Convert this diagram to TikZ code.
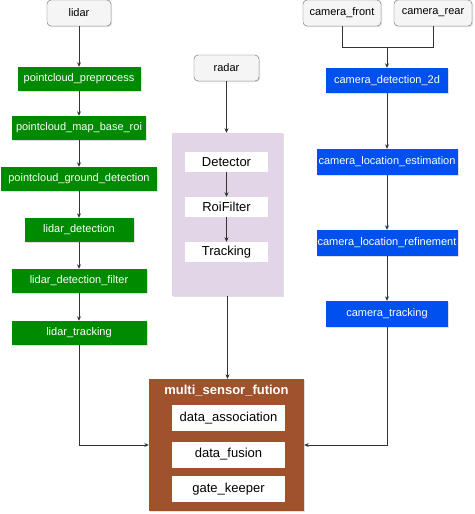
\documentclass[tikz,border=0pt]{standalone}
\usepackage{fontspec}
\setmainfont{Liberation Sans}
\usetikzlibrary{arrows.meta,shadows}
\definecolor{lidargreen}{HTML}{008A00}
\definecolor{camblue}{HTML}{0050EF}
\definecolor{fusebrown}{HTML}{A0522D}
\definecolor{radarpanel}{HTML}{E1D5E7}
\definecolor{srcgray}{HTML}{F5F5F5}
\definecolor{srcedge}{HTML}{666666}
\begin{document}
\begin{tikzpicture}[x=1pt,y=-1pt,
    shade/.style={drop shadow={opacity=0.25,shadow xshift=1.2pt,shadow yshift=-1.2pt}},
    srcbox/.style={shade,draw=srcedge,fill=srcgray,rounded corners=4pt,minimum height=26pt,
      inner sep=0pt,font=\fontsize{11}{13}\selectfont},
    lidarbox/.style={shade,fill=lidargreen,text=white,minimum height=24pt,inner sep=0pt,
      font=\fontsize{11}{13}\selectfont},
    cambox/.style={shade,fill=camblue,text=white,minimum height=25pt,inner sep=0pt,
      font=\fontsize{11}{13}\selectfont},
    subbox/.style={fill=white,inner sep=0pt,font=\fontsize{13}{15}\selectfont},
    link/.style={draw=black!80,line width=0.7pt,-{Stealth[length=4.5pt,width=4pt]}},
    wire/.style={draw=black!80,line width=0.7pt}]
  \useasboundingbox (0,0) rectangle (474,514);
  %
  % lidar column
  \node[srcbox,minimum width=64pt] (lidar) at (79,13) {lidar};
  \node[lidarbox,minimum width=123pt] (lpre) at (79,79) {pointcloud\_preprocess};
  \node[lidarbox,minimum width=134pt] (lroi) at (79,128) {pointcloud\_map\_base\_roi};
  \node[lidarbox,minimum width=156pt] (lground) at (79,179) {pointcloud\_ground\_detection};
  \node[lidarbox,minimum width=109pt] (ldet) at (79,230) {lidar\_detection};
  \node[lidarbox,minimum width=135pt] (lfilter) at (79,281) {lidar\_detection\_filter};
  \node[lidarbox,minimum width=135pt] (ltrack) at (79,333) {lidar\_tracking};
  \draw[link] (lidar) -- (lpre);
  \draw[link] (lpre) -- (lroi);
  \draw[link] (lroi) -- (lground);
  \draw[link] (lground) -- (ldet);
  \draw[link] (ldet) -- (lfilter);
  \draw[link] (lfilter) -- (ltrack);
  %
  % radar column
  \node[srcbox,minimum width=65pt] (radar) at (226.5,68) {radar};
  \node[shade,fill=radarpanel,minimum width=111pt,minimum height=163pt,inner sep=0pt]
    (rpanel) at (227.5,214.5) {};
  \node[subbox,minimum width=83pt,minimum height=20pt] (rdet) at (226.5,162) {Detector};
  \node[subbox,minimum width=83pt,minimum height=20pt] (rroi) at (226.5,207) {RoiFilter};
  \node[subbox,minimum width=83pt,minimum height=20pt] (rtrack) at (226.5,252) {Tracking};
  \draw[link] (radar.south) -- (radar.south |- rpanel.north);
  \draw[link] (rdet) -- (rroi);
  \draw[link] (rroi) -- (rtrack);
  %
  % camera column
  \node[srcbox,minimum width=78pt] (cfront) at (342,13) {camera\_front};
  \node[srcbox,minimum width=78pt] (crear) at (433,13) {camera\_rear};
  \coordinate (cjoin) at (387,47);
  \node[cambox,minimum width=122pt] (cdet) at (387,80.5) {camera\_detection\_2d};
  \node[cambox,minimum width=141pt,minimum height=26pt] (cest) at (387,162) {camera\_location\_estimation};
  \node[cambox,minimum width=141pt,minimum height=26pt] (cref) at (387,243) {camera\_location\_refinement};
  \node[cambox,minimum width=122pt,minimum height=26pt] (ctrack) at (387,314) {camera\_tracking};
  \draw[wire] (cfront.south) |- (cjoin);
  \draw[wire] (crear.south) |- (cjoin);
  \draw[link] (cjoin) -- (cdet);
  \draw[link] (cdet) -- (cest);
  \draw[link] (cest) -- (cref);
  \draw[link] (cref) -- (ctrack);
  %
  % fusion
  \node[shade,fill=fusebrown,minimum width=155pt,minimum height=132pt,inner sep=0pt]
    (fusion) at (226.5,445) {};
  \node[text=white,font=\bfseries\fontsize{13}{15}\selectfont] (ftitle) at (226.5,391)
    {multi\_sensor\_fution};
  \node[subbox,minimum width=113pt,minimum height=26pt] (fassoc) at (228.5,418) {data\_association};
  \node[subbox,minimum width=113pt,minimum height=26pt] (ffuse) at (228.5,454.5) {data\_fusion};
  \node[subbox,minimum width=113pt,minimum height=26pt] (fgate) at (228.5,489) {gate\_keeper};
  \draw[link] (rpanel.south) -- (rpanel.south |- fusion.north);
  \draw[link] (ltrack.south) |- (fusion.west);
  \draw[link] (ctrack.south) |- (fusion.east);
  %
\end{tikzpicture}
\end{document}
